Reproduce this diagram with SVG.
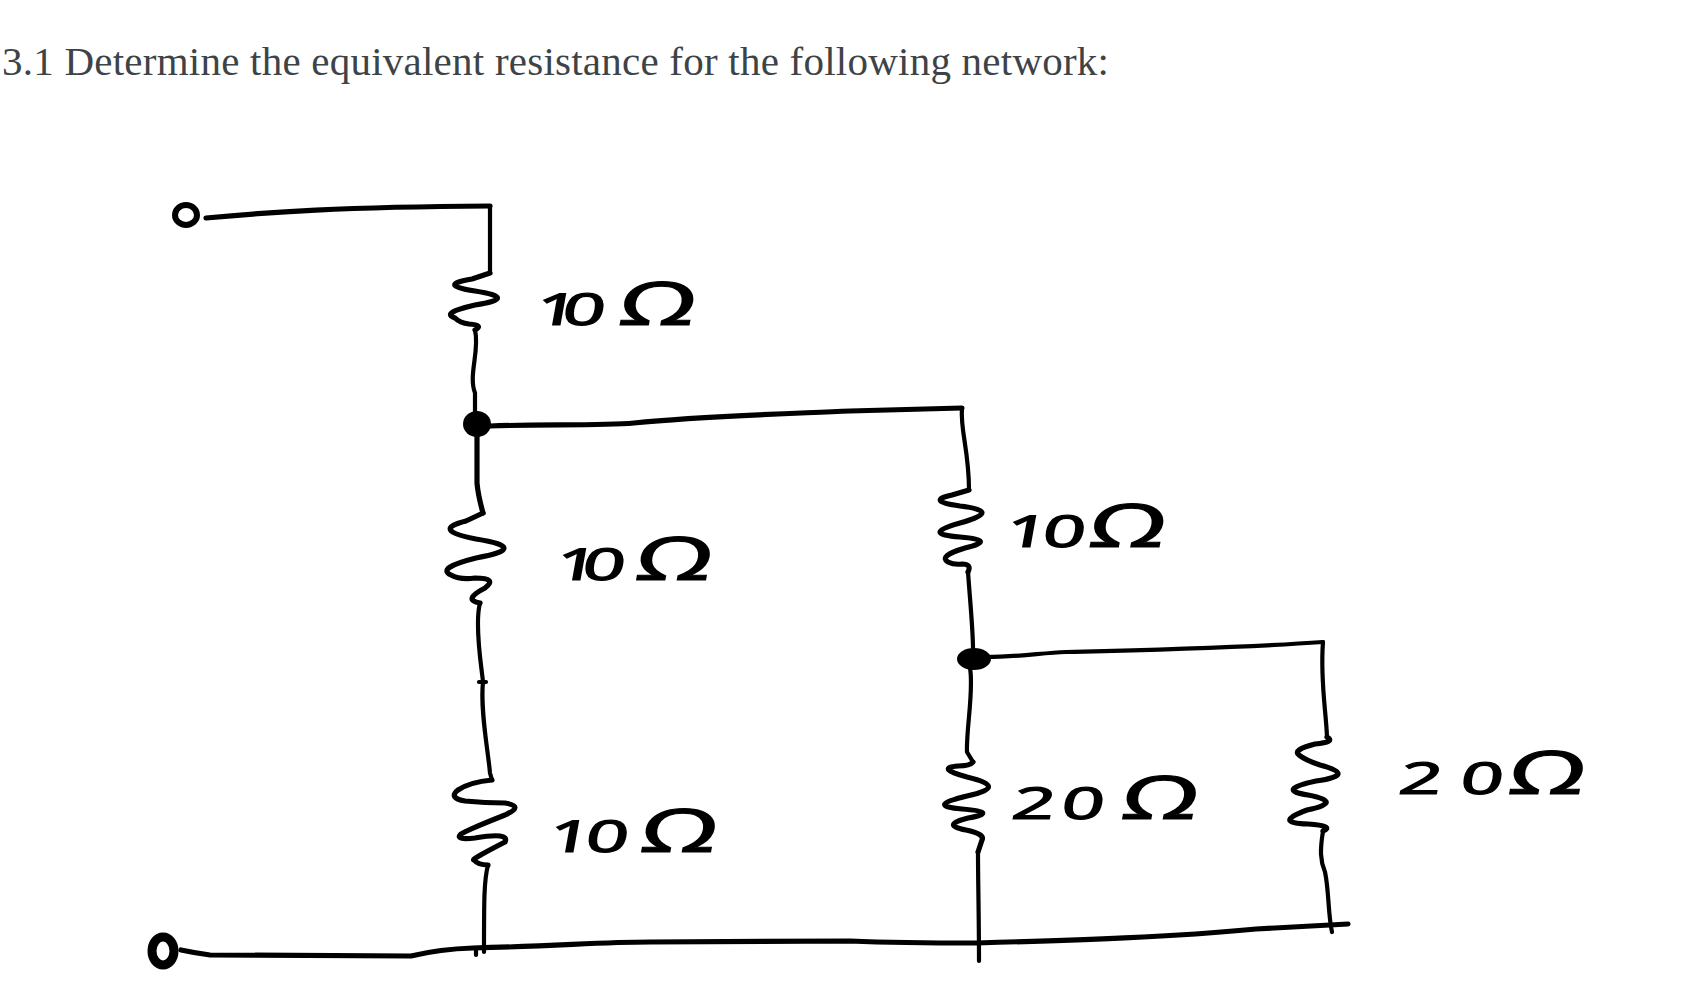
<svg xmlns="http://www.w3.org/2000/svg" width="1698" height="1006" viewBox="0 0 1698 1006">
<style>
.w{fill:none;stroke:#000;stroke-width:4.2;stroke-linecap:round;stroke-linejoin:round}
.t{stroke-width:5.2}
.r{fill:none;stroke:#000;stroke-width:5.2;stroke-linecap:round;stroke-linejoin:round}
.h{font-family:"Liberation Serif",serif;font-size:41px;fill:#3d4347}
.l{font-family:"Noto Sans","Liberation Sans",sans-serif;font-size:44px;fill:#000;stroke:#000;stroke-width:1.2}
.o{font-size:60px}
</style>
<rect width="1698" height="1006" fill="#fff"/>
<text id="title" class="h" x="2" y="75" textLength="1107" lengthAdjust="spacing">3.1 Determine the equivalent resistance for the following network:</text>
<g id="connectors">
<path class="w t" d="M206,218 C270,212 340,207 490,206"/>
<path class="w" d="M490,206 L490,273"/>
<path class="w" d="M475,330 C480,350 468,375 475,393 L475,413"/>
<path class="w t" d="M490,426 C540,424 600,426 634,423 C700,416 780,414 850,411 L962,408"/>
<path class="w" d="M962,408 C960,430 969,450 969,490"/>
<path class="w t" d="M477,424 L477,483 Q478,495 483,513"/>
<path class="w" d="M480,603 C474,625 482,670 483,682 C480,710 488,750 490,773 L492,780"/>
<path class="w" d="M479,682 L486,682"/>
<path class="w" d="M488,865 C484,880 484,900 484,952"/>
<path class="w" d="M968,572 C970,600 973,630 973,649"/>
<path class="w" d="M985,657 C1020,657 1040,653 1066,652 C1150,650 1240,648 1323,642"/>
<path class="w" d="M1323,642 C1320,680 1326,710 1327,737"/>
<path class="w" d="M970,668 C974,690 966,730 967,752 L973,762"/>
<path class="w" d="M978,852 C978,880 979,920 979,961"/>
<path class="w" d="M1323,831 C1320,850 1320,860 1325,872 C1329,890 1328,915 1332,932"/>
<path class="w t" d="M181,950 Q195,953 210,955 L411,956 Q440,949 473,948 C560,946 600,942 650,942 L850,941 Q900,943 977,943 C1080,940 1174,937 1256,929 L1348,924"/>
<path class="w" d="M476,950 L476,955"/>
</g>
<g id="terminal-top"><ellipse cx="186" cy="215" rx="11" ry="10" fill="none" stroke="#000" stroke-width="6"/></g>
<g id="terminal-bottom"><ellipse cx="163" cy="951" rx="11" ry="14" fill="none" stroke="#000" stroke-width="9"/></g>
<g id="junction-1"><ellipse cx="477" cy="424" rx="14" ry="13" fill="#000"/></g>
<g id="junction-2"><ellipse cx="974" cy="659" rx="17" ry="11" fill="#000"/></g>
<g id="resistor-1">
<path class="r" d="M490,273 L472,279 Q436,285 475,291 Q520,298 475,305 Q440,313 455,318 Q460,323 469,324 Q484,325 475,330"/>
<text class="l" transform="translate(533,325) scale(1.7,1) skewX(-6)"><tspan x="0">1</tspan><tspan x="16">0</tspan><tspan class="o" x="50">Ω</tspan></text>
</g>
<g id="resistor-2">
<path class="r" d="M483,513 L466,521 Q430,530 476,539 Q532,548 476,558 Q436,568 451,575 Q460,580 475,578 Q498,578 485,588 Q462,600 480,603"/>
<text class="l" transform="translate(553,580) scale(1.7,1) skewX(-6)"><tspan x="0">1</tspan><tspan x="16">0</tspan><tspan class="o" x="48">Ω</tspan></text>
</g>
<g id="resistor-3">
<path class="r" d="M492,780 Q470,782 458,790 Q448,798 465,801 Q485,803 505,803 Q525,806 505,815 Q462,832 460,835 Q456,840 475,838 Q510,832 505,842 Q470,860 474,860 Q478,865 488,865"/>
<text class="l" transform="translate(546,852) scale(1.7,1) skewX(-6)"><tspan x="0">1</tspan><tspan x="22">0</tspan><tspan class="o" x="55">Ω</tspan></text>
</g>
<g id="resistor-4">
<path class="r" d="M969,490 L952,495 Q925,501 960,506 Q1004,511 960,523 Q920,534 960,537 Q998,540 965,548 Q938,556 948,562 Q954,565 962,564 Q972,564 968,572"/>
<text class="l" transform="translate(1003,547) scale(1.7,1) skewX(-6)"><tspan x="0">1</tspan><tspan x="22">0</tspan><tspan class="o" x="50">Ω</tspan></text>
</g>
<g id="resistor-5">
<path class="r" d="M973,762 Q970,766 958,766 Q935,768 967,777 Q1010,787 967,796 Q925,806 962,809 Q1000,812 968,818 Q940,825 966,830 Q985,834 982,840 L978,852"/>
<text class="l" transform="translate(1010,819) scale(1.7,1) skewX(-6)"><tspan x="0">2</tspan><tspan x="29">0</tspan><tspan class="o" x="65">Ω</tspan></text>
</g>
<g id="resistor-6">
<path class="r" d="M1327,737 Q1336,742 1315,744 Q1292,750 1299,755 Q1305,760 1320,765 Q1358,775 1316,781 Q1275,790 1308,795 Q1345,802 1307,810 Q1272,823 1308,824 Q1335,826 1323,831"/>
<text class="l" transform="translate(1397,794) scale(1.7,1) skewX(-6)"><tspan x="0">2</tspan><tspan x="36">0</tspan><tspan class="o" x="65">Ω</tspan></text>
</g>
</svg>
